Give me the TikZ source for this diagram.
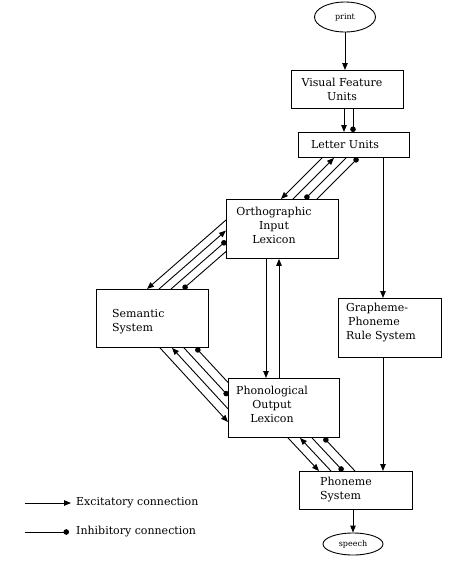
\documentclass[tikz,border=0pt]{standalone}
\usepackage{fontspec}
\setmainfont{DejaVu Serif}
\usetikzlibrary{arrows.meta,calc,shapes.geometric}
\begin{document}
\begin{tikzpicture}[x=1pt,y=-1pt,
  box/.style={draw,line width=0.9pt,anchor=north west,inner sep=0pt},
  oval/.style={draw,line width=0.9pt,ellipse,inner sep=0pt},
  lbl/.style={font=\fontsize{11}{14}\selectfont,inner sep=0pt},
  small/.style={font=\fontsize{8}{10}\selectfont,inner sep=0pt},
  exc/.style={line width=0.9pt,-{Triangle[length=7pt,width=5.5pt]}},
  inh/.style={line width=0.9pt,-{Circle[length=5.5pt,width=5.5pt]}}]
\useasboundingbox (0,0) rectangle (474,574);
% ovals
\node[oval,minimum width=61pt,minimum height=30pt] (print) at (345,17) {};
\node[small] (printt) at (345,17) {print};
\node[oval,minimum width=60pt,minimum height=22pt] (speech) at (353,544) {};
\node[small] (speecht) at (353,544) {speech};
% boxes
\node[box,minimum width=112pt,minimum height=38pt] (VFU) at (291,70) {};
\node[box,minimum width=111pt,minimum height=25pt] (LU) at (298,132) {};
\node[box,minimum width=112pt,minimum height=59pt] (OIL) at (226,199) {};
\node[box,minimum width=112pt,minimum height=58pt] (SEM) at (96,289) {};
\node[box,minimum width=103pt,minimum height=59pt] (GPR) at (338,298) {};
\node[box,minimum width=111pt,minimum height=59pt] (POL) at (228,378) {};
\node[box,minimum width=113pt,minimum height=38pt] (PHON) at (299,471) {};
% texts
\node[lbl,align=center] (VFUt) at (342,89) {Visual Feature\\Units};
\node[lbl] (LUt) at (345,144.5) {Letter Units};
\node[lbl,align=center] (OILt) at (274,225) {Orthographic\\Input\\Lexicon};
\node[lbl,align=left,anchor=west] (SEMt) at (112,322) {Semantic\\System};
\node[lbl,align=left,anchor=west] (GPRt) at (346,323) {Grapheme-\\\hspace{2pt}Phoneme\\Rule System};
\node[lbl,align=center] (POLt) at (272,404) {Phonological\\Output\\Lexicon};
\node[lbl,align=left,anchor=west] (PHONt) at (320,490) {Phoneme\\System};
% vertical connectors
\draw[exc] (print.south) -- (print.south |- VFU.north);
\draw[exc] ($(VFU.south west)+(53,0)$) -- ($(LU.north west)+(46,0)$);
\draw[inh] ($(VFU.south west)+(62,0)$) -- ($(LU.north west)+(55,0)$);
\draw[exc] ($(LU.south west)+(85,0)$) -- ($(GPR.north west)+(45,0)$);
\draw[exc] ($(GPR.south west)+(45,0)$) -- ($(PHON.north west)+(84,0)$);
\draw[exc] ($(PHON.south west)+(54,0)$) -- (speech.north);
\draw[exc] ($(OIL.south west)+(40,0)$) -- ($(POL.north west)+(38,0)$);
\draw[exc] ($(POL.north west)+(51,0)$) -- ($(OIL.south west)+(53,0)$);
% LU <-> OIL
\draw[exc] ($(LU.south west)+(24,0)$) -- ($(OIL.north west)+(55,0)$);
\draw[exc] ($(OIL.north west)+(67,0)$) -- ($(LU.south west)+(36,0)$);
\draw[inh] ($(LU.south west)+(48,0)$) -- ($(OIL.north west)+(79,0)$);
\draw[inh] ($(OIL.north west)+(91,0)$) -- ($(LU.south west)+(60,0)$);
% OIL <-> SEM
\draw[exc] ($(OIL.north west)+(0,21)$) -- ($(SEM.north west)+(51,0)$);
\draw[exc] ($(SEM.north west)+(63,0)$) -- ($(OIL.north west)+(0,31.5)$);
\draw[inh] ($(SEM.north west)+(75,0)$) -- ($(OIL.north west)+(0,42)$);
\draw[inh] ($(OIL.north west)+(0,52.5)$) -- ($(SEM.north west)+(87,0)$);
% SEM <-> POL
\draw[exc] ($(SEM.south west)+(64,0)$) -- ($(POL.north west)+(0,44)$);
\draw[exc] ($(POL.north west)+(0,30.8)$) -- ($(SEM.south west)+(76,0)$);
\draw[inh] ($(SEM.south west)+(88,0)$) -- ($(POL.north west)+(0,17.6)$);
\draw[inh] ($(POL.north west)+(0,4.4)$) -- ($(SEM.south west)+(100,0)$);
% POL <-> PHON
\draw[exc] ($(POL.south west)+(60,0)$) -- ($(PHON.north west)+(20,0)$);
\draw[exc] ($(PHON.north west)+(32,0)$) -- ($(POL.south west)+(72,0)$);
\draw[inh] ($(POL.south west)+(84,0)$) -- ($(PHON.north west)+(44,0)$);
\draw[inh] ($(PHON.north west)+(56,0)$) -- ($(POL.south west)+(96,0)$);
% legend
\coordinate (le1) at (25,503);
\coordinate (le2) at (71,503);
\coordinate (li1) at (25,532);
\coordinate (li2) at (69,532);
\draw[exc] (le1) -- (le2);
\draw[inh] (li1) -- (li2);
\node[lbl,anchor=west] (let) at (76,503) {Excitatory connection};
\node[lbl,anchor=west] (lit) at (76,532) {Inhibitory connection};
\end{tikzpicture}
\end{document}
